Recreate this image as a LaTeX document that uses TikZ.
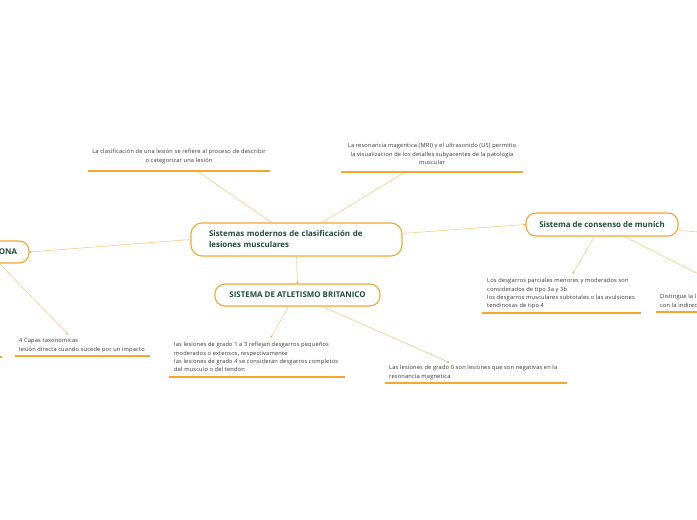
\documentclass[tikz,border=0pt]{standalone}
\usepackage{fontspec}
\setmainfont{Open Sans}
\newfontfamily\leaffont{Open Sans}[LetterSpace=3]
\usetikzlibrary{calc,arrows.meta}
\definecolor{orng}{HTML}{F7A52E}
\definecolor{lineor}{HTML}{FCCB85}
\definecolor{ttl}{HTML}{1E4D3A}
\definecolor{txt}{HTML}{333333}
\tikzset{
 topic/.style={draw=orng, line width=1.1pt, fill=white, rounded corners=11pt,
   font=\fontsize{7.9}{11}\selectfont\bfseries, text=ttl, inner sep=0pt},
 leaf/.style={font=\leaffont\fontsize{5.7}{8.3}\selectfont, text=txt, inner sep=0pt},
 uline/.style={draw=orng, line width=1.3pt},
 conn/.style={draw=lineor, line width=0.6pt, -{Circle[length=1.8pt,fill=orng,color=orng]}},
}
\begin{document}
\begin{tikzpicture}[x=1pt,y=-1pt]
\useasboundingbox (0,0) rectangle (697,520);
\fill[white] (0,0) rectangle (697,520);
\clip (0,0) rectangle (697,520);

% topics
\node[topic, minimum width=211pt, minimum height=33pt, text width=175pt, align=left, inner xsep=18pt]
  (c) at (296.5,239.5) {Sistemas modernos de clasificación de\\lesiones musculares};
\node[topic, minimum width=71pt, minimum height=22pt, rounded corners=10pt, text width=47pt, align=right, inner xsep=12pt]
  (ona) at (-6.5,252) {ONA};
\node[topic, minimum width=152pt, minimum height=23pt, rounded corners=10pt]
  (m) at (602,224.5) {Sistema de consenso de munich};
\node[topic, minimum width=165pt, minimum height=22pt, rounded corners=10pt]
  (b) at (297.5,295) {SISTEMA DE ATLETISMO BRITANICO};

% leaves
\node[leaf, anchor=north, align=center] (l1) at (179,149.4)
  {La clasificación de una lesión se refiere al proceso de describir\\o categorizar una lesión};
\draw[uline] (88,171) -- (270,171);
\coordinate (u1) at (197,171);

\node[leaf, anchor=north, align=center] (l2) at (432,143.4)
  {La resonancia magentica (MRI) y el ultrasonido (US) permitio\\la visualizacion de los detalles subyacentes de la patologia\\muscular};
\draw[uline] (341,172) -- (523,172);
\coordinate (u2) at (405,172);

\node[leaf, anchor=north west, align=left] (l3) at (487,278.4)
  {Los desgarros parciales menores y moderados son\\considerados de tipo 3a y 3b\\los desgarros musculares subtotales o las avulsiones\\tendinosas de tipo 4};
\draw[uline] (482,313) -- (641,313);

\node[leaf, anchor=north west, align=left] (l4) at (660,294.4)
  {Distingue la l\\con la indirec};
\draw[uline] (656,312) -- (710,312);

\node[leaf, anchor=north west, align=left] (l5) at (19,338.4)
  {4 Capas taxonómicas\\lesión directa cuando sucede por un impacto};
\draw[uline] (15,356) -- (150,356);
\draw[uline] (-60,357) -- (2,357);

\node[leaf, anchor=north west, align=left] (l6) at (174,342.4)
  {las lesiones de grado 1 a 3 reflejan desgarros pequeños\\moderados o extensos, respectivamente\\las lesiones de grado 4 se consideran desgarros completos\\del musculo o del tendon};
\draw[uline] (169,377) -- (345,377);

\node[leaf, anchor=north west, align=left] (l7) at (389,365.4)
  {Las lesiones de grado 0 son lesiones que son negativas en la\\resonancia magnetica};
\draw[uline] (385,383) -- (567,383);

\coordinate (r1) at (760,236);
\coordinate (r2) at (760,305);

% connectors
\draw[conn] ($(c.north west)+(81,0)$) -- (u1);
\draw[conn] ($(c.north west)+(132,0)$) -- (u2);
\draw[conn] (c.west) -- (ona.east);
\draw[conn] ($(c.north east)+(0,11)$) -- (m.west);
\draw[conn] (c.south) -- (b.north);
\draw[conn] ($(m.south west)+(69,0)$) -- ($(l3.north west)+(86,-5)$);
\draw[conn] ($(m.south west)+(99,0)$) -- (r2);
\draw[conn] ($(m.south east)+(0,-6)$) -- (r1);
\draw[conn] ($(ona.south)+(6,0)$) -- ($(l5.north west)+(49,-4)$);
\draw[conn] ($(b.south west)+(74,0)$) -- ($(l6.north west)+(97,-5)$);
\draw[conn] ($(b.south west)+(108,0)$) -- ($(l7.north west)+(60,-3)$);
\end{tikzpicture}
\end{document}
